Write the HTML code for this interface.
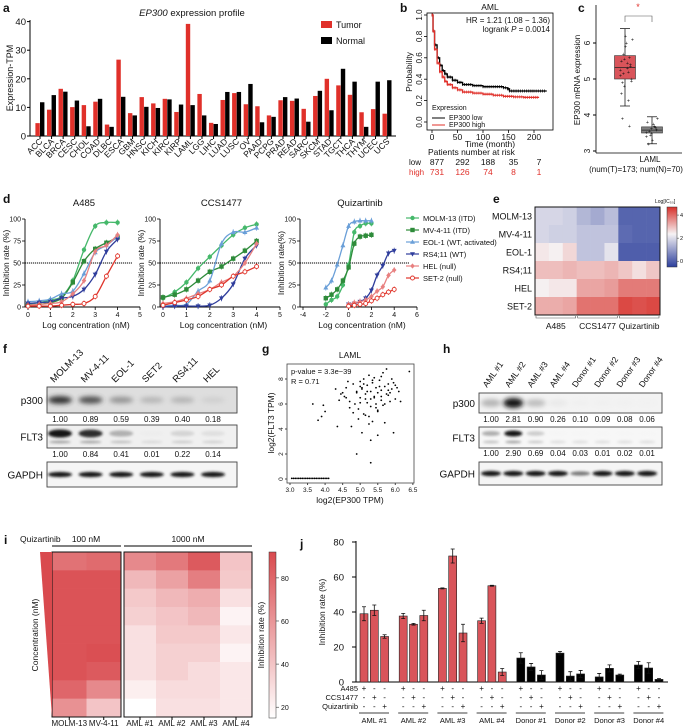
<!DOCTYPE html>
<html><head><meta charset="utf-8">
<style>
html,body{margin:0;padding:0;background:#fff;}
svg{display:block;font-family:"Liberation Sans",Arial,sans-serif;}
text{fill:#111;}
</style></head>
<body>
<svg id="fig" xmlns="http://www.w3.org/2000/svg" width="685" height="726" viewBox="0 0 685 726">
<defs>
<filter id="blur1" x="-30%" y="-100%" width="160%" height="300%"><feGaussianBlur stdDeviation="1.3"/></filter>
<filter id="blur2" x="-30%" y="-100%" width="160%" height="300%"><feGaussianBlur stdDeviation="2.5"/></filter>
<linearGradient id="ecbar" x1="0" y1="0" x2="0" y2="1"><stop offset="0" stop-color="#d7302a"/><stop offset="0.45" stop-color="#f6f3f4"/><stop offset="1" stop-color="#2c3f9c"/></linearGradient>
<linearGradient id="icbar" x1="0" y1="0" x2="0" y2="1"><stop offset="0" stop-color="#d94a4e"/><stop offset="1" stop-color="#ffffff"/></linearGradient>
</defs>
<g font-weight="bold" font-size="12">
<text x="3" y="12">a</text>
<text x="400" y="12">b</text>
<text x="578" y="12">c</text>
<text x="3" y="203">d</text>
<text x="493" y="203">e</text>
<text x="3" y="353">f</text>
<text x="262" y="353">g</text>
<text x="443" y="353">h</text>
<text x="4" y="544">i</text>
<text x="300" y="548">j</text>
</g>

<text x="192" y="16" font-size="9.5" text-anchor="middle"><tspan font-style="italic">EP300</tspan> expression profile</text>
<text transform="translate(13,78) rotate(-90)" font-size="9" text-anchor="middle">Expression-TPM</text>
<rect x="321" y="21" width="11" height="7" fill="#e0302a"/>
<text x="336" y="28" font-size="9">Tumor</text>
<rect x="321" y="37" width="11" height="7" fill="#000"/>
<text x="336" y="44" font-size="9">Normal</text>
<g id="pa"></g>

<text x="490" y="10" font-size="8.5" text-anchor="middle">AML</text>
<rect x="427" y="13" width="126" height="117" fill="none" stroke="#000" stroke-width="0.8"/>
<text x="550" y="23" font-size="8" text-anchor="end">HR = 1.21 (1.08 − 1.36)</text>
<text x="550" y="32" font-size="8" text-anchor="end">logrank <tspan font-style="italic">P</tspan> = 0.0014</text>
<text x="432" y="110" font-size="7">Expression</text>
<line x1="432" y1="118" x2="445" y2="118" stroke="#000" stroke-width="1"/>
<text x="449" y="120" font-size="7">EP300 low</text>
<line x1="432" y1="125" x2="445" y2="125" stroke="#e0302a" stroke-width="1"/>
<text x="449" y="127" font-size="7">EP300 high</text>
<text transform="translate(412,72) rotate(-90)" font-size="8.5" text-anchor="middle">Probability</text>
<text x="490" y="147" font-size="8.5" text-anchor="middle">Time (month)</text>
<text x="428" y="155" font-size="8.5">Patients number at risk</text>
<text x="409" y="165" font-size="8">low</text>
<text x="409" y="175" font-size="8" style="fill:#e0302a">high</text>
<g id="pb"></g>

<g id="pc"></g>
<text transform="translate(580,80) rotate(-90)" font-size="8" text-anchor="middle">EP300 mRNA expression</text>
<text x="650" y="162" font-size="8" text-anchor="middle">LAML</text>
<text x="636" y="172" font-size="8" text-anchor="middle">(num(T)=173; num(N)=70)</text>

<g id="pd"></g>
<g id="pdleg"></g>

<g id="pe"></g>
<text x="655" y="203" font-size="5">Log[IC₅₀]</text>
<rect x="667" y="207" width="10" height="60" fill="url(#ecbar)" stroke="#333" stroke-width="0.5"/>

<g id="pf"></g>
<g id="pg"></g>
<g id="ph"></g>
<g id="pi"></g>
<g id="pj"></g>
</svg>

<script>
const aCategories = ["ACC","BLCA","BRCA","CESC","CHOL","COAD","DLBC","ESCA","GBM","HNSC","KICH","KIRC","KIRP","LAML","LGG","LIHC","LUAD","LUSC","OV","PAAD","PCPG","PRAD","READ","SARC","SKCM","STAD","TGCT","THCA","THYM","UCEC","UCS"];
const aTumor = [4.5,9.2,16.5,10.1,10.8,12,4,26.7,8,13.6,11.4,13,8.4,39.2,14.7,4.6,12.6,15,11.1,10.4,7.2,12.5,12.3,9.5,14,20,17.7,14.4,8.3,9.4,7.8];
const aNormal = [11.8,14.3,15.5,12.4,3.4,13,3.2,13.7,7.2,10.2,9.8,12.8,11,10.8,7.2,4.2,15.4,15.4,18.2,4.8,6.7,13.6,13.1,5,15.8,9,23.5,19,3.2,19,19.5];
const aTicks = [0,10,20,30,40];
const bTimeLow = [0,2,5,10,15,20,25,30,40,50,60,80,100,120,140,148,152,170,200,225];
const bSurvLow = [1,0.85,0.72,0.6,0.53,0.48,0.45,0.42,0.39,0.37,0.35,0.34,0.33,0.33,0.32,0.31,0.29,0.29,0.29,0.29];
const bTimeHigh = [0,2,5,10,15,20,25,30,40,50,60,80,100,120,140,160,180,210];
const bSurvHigh = [1,0.85,0.68,0.55,0.47,0.42,0.38,0.35,0.32,0.3,0.28,0.27,0.26,0.25,0.24,0.235,0.23,0.23];
const bXTicks = [0,50,100,150,200];
const bYTicks = [0,0.2,0.4,0.6,0.8,1.0];
const bRiskLow = ["877","292","188","35","7"];
const bRiskHigh = ["731","126","74","8","1"];
const cYTicks = [3,4,5,6];
const cTumorBox = [4.25,5.0,5.32,5.65,6.4];
const cNormalBox = [3.2,3.5,3.58,3.67,3.95];
const cTumorPts = [5.1,5.3,5.5,5.2,4.9,5.6,5.7,5.4,4.8,5.0,5.9,6.1,6.0,5.25,5.45,4.6,4.4,3.9,3.7,5.15,5.35,5.55,4.95,6.2];
const cNormalPts = [3.4,3.5,3.6,3.55,3.7,3.8,3.3,3.9,3.45,3.65,3.2,3.75,3.52,3.62,3.58];
const dSeries = ["MOLM-13 (ITD)","MV-4-11 (ITD)","EOL-1 (WT, activated)","RS4;11 (WT)","HEL (null)","SET-2 (null)"];
const dX12 = [0,0.5,1,1.5,2,2.5,3,3.5,4];
const dA485 = [
 [3,5,8,12,30,65,92,96,96],
 [2,3,5,10,28,52,66,73,79],
 [6,7,9,15,18,38,62,70,80],
 [4,5,6,10,12,20,37,63,77],
 [2,3,4,6,15,30,63,70,82],
 [1,1,1,2,3,4,12,35,58]];
const dCCS = [
 [10,17,28,44,57,70,82,90,94],
 [11,14,20,30,40,46,55,64,75],
 [1,2,3,18,30,72,85,85,90],
 [0,1,1,1,2,10,26,55,70],
 [4,6,10,15,20,28,35,50,72],
 [2,5,8,12,20,25,35,40,46]];
const dXQuizShort = [-2,-1.5,-1,-0.5,0,0.5,1,1.5,2];
const dXQuizLong = [0,0.5,1,1.5,2,2.5,3,3.5,4];
const dQuiz = [
 [3,8,12,25,48,85,92,95,95],
 [10,14,20,30,45,72,80,81,82],
 [22,30,48,70,92,97,98,98,98],
 [3,4,6,10,19,36,47,61,64],
 [3,5,6,8,12,18,23,36,42],
 [1,2,3,4,7,10,14,17,20]];
const eRows = ["MOLM-13","MV-4-11","EOL-1","RS4;11","HEL","SET-2"];
const eGroups = ["A485","CCS1477","Quizartinib"];
const eValues = [
 [1.9,1.9,1.8,1.4,1.2,1.5,0.1,0.1,0.1],
 [1.9,1.8,1.8,1.6,1.6,1.6,0.2,0.1,0.1],
 [2.5,2.4,2.7,1.6,1.6,2.1,0,0,0],
 [3.0,3.0,3.1,3.0,3.0,3.1,2.9,2.6,2.9],
 [2.4,2.5,2.5,3.3,3.3,3.4,3.8,3.8,3.8],
 [3.2,3.2,3.3,3.9,3.9,3.9,4.4,4.3,4.4]];
const eTicks = [0,2,4];
const fLanes = ["MOLM-13","MV-4-11","EOL-1","SET2","RS4;11","HEL"];
const fP300 = [1.00,0.89,0.59,0.39,0.40,0.18];
const fFLT3 = [1.00,0.84,0.41,0.01,0.22,0.14];
const gX = [3.65,3.8,3.9,3.95,4.0,4.35,4.3,4.4,4.6,4.75,4.9,5.05,5.3,5.3,5.5,5.95,6.4,5.7,5.45,
 4.5,4.6,4.7,4.8,4.85,4.9,4.95,5.0,5.0,5.05,5.1,5.1,5.15,5.2,5.2,5.25,5.3,5.3,5.35,5.4,5.4,5.45,5.5,5.5,5.55,5.6,5.6,5.65,5.7,5.7,5.75,5.8,5.8,5.85,5.9,5.9,6.0,6.0,6.1,6.15,4.55,4.65,4.8,4.95,5.05,5.15,5.25,5.35,5.45,5.55,5.65,5.75,5.85,5.95,5.0,5.2,5.4,5.6,4.7,4.9,5.1,5.3,5.5,5.8,6.05,4.45,5.15,5.35,5.6,5.0,5.25];
const gY = [6.0,4.7,5.0,5.9,5.4,4.2,7.2,6.3,6.5,4.2,2.0,3.7,3.1,1.3,3.5,3.7,8.6,4.5,5.7,
 6.9,7.3,6.2,7.6,6.0,7.0,5.6,7.8,6.5,7.2,8.0,5.2,6.8,7.5,6.1,8.3,7.0,5.8,7.7,6.6,8.1,7.3,6.9,5.5,7.9,7.1,6.3,8.5,7.4,6.0,8.8,6.7,7.6,6.9,7.2,8.0,6.4,7.5,7.0,6.2,6.6,7.8,5.3,4.8,7.3,6.4,5.0,7.9,6.0,7.4,5.9,6.8,6.2,7.7,6.1,7.0,6.5,8.2,5.7,6.9,7.6,6.4,5.4,7.1,7.3,6.8,5.1,4.6,6.6,7.4,4.4];
const gZeroX = [3.05,3.1,3.15,3.2,3.25,3.3,3.35,3.4,3.45,3.5,3.55,3.6,3.65,3.7,3.75,3.8,3.85,3.9,3.95,4.0,4.05,4.1];
const gXTicks = ["3.0","3.5","4.0","4.5","5.0","5.5","6.0","6.5"];
const gYTicks = [0,2,4,6,8];
const hLanes = ["AML #1","AML #2","AML #3","AML #4","Donor #1","Donor #2","Donor #3","Donor #4"];
const hP300 = [1.00,2.81,0.90,0.26,0.10,0.09,0.08,0.06];
const hFLT3 = [1.00,2.90,0.69,0.04,0.03,0.01,0.02,0.01];
const iCols = ["MOLM-13","MV-4-11","AML #1","AML #2","AML #3","AML #4"];
const iValues = [
 [75,78,65,72,85,40],
 [88,88,45,55,70,38],
 [88,88,38,45,50,28],
 [88,88,35,40,45,20],
 [88,88,28,38,38,25],
 [88,90,28,35,35,20],
 [88,85,28,35,30,25],
 [80,65,22,30,30,25],
 [62,40,15,28,28,25]];
const iTicks = [20,40,60,80];
const jGroups = ["AML #1","AML #2","AML #3","AML #4","Donor #1","Donor #2","Donor #3","Donor #4"];
const jValues = [[39,41,26],[37.7,33,38],[53.5,72,28],[35,55,5.7],[13.7,8.6,4],[16.5,3.4,4.6],[2.9,7.8,4],[9.7,8,1.5]];
const jErrors = [[4,3,1],[1.5,0.5,3],[0.3,4,5],[1.5,0.3,2],[3,2,2.5],[1,2.5,2],[2,2,0.5],[2,3,0.5]];
const jTicks = [0,20,40,60,80];

const NS="http://www.w3.org/2000/svg";
function mk(parent,tag,attrs,txt){const e=document.createElementNS(NS,tag);for(const k in attrs)e.setAttribute(k,attrs[k]);if(txt!==undefined)e.textContent=txt;parent.appendChild(e);return e;}
function smooth(pts){let d="M"+pts[0][0]+","+pts[0][1];for(let i=0;i<pts.length-1;i++){const p0=pts[Math.max(0,i-1)],p1=pts[i],p2=pts[i+1],p3=pts[Math.min(pts.length-1,i+2)];const c1=[p1[0]+(p2[0]-p0[0])/6,p1[1]+(p2[1]-p0[1])/6],c2=[p2[0]-(p3[0]-p1[0])/6,p2[1]-(p3[1]-p1[1])/6];d+=" C"+c1[0]+","+c1[1]+" "+c2[0]+","+c2[1]+" "+p2[0]+","+p2[1];}return d;}
function lerp(a,b,t){return a+(b-a)*t;}
function mix(c1,c2,t){return "rgb("+[0,1,2].map(i=>Math.round(lerp(c1[i],c2[i],t))).join(",")+")";}
let el;

(function(){
 const g=document.getElementById("pa");
 const y=v=>136-v*2.86, x=i=>40+i*11.57;
 el=mk(g,"line",{x1:30,y1:20,x2:30,y2:136,stroke:"#000","stroke-width":1});
 
 
 el=mk(g,"line",{x1:30,y1:136,x2:396,y2:136,stroke:"#000","stroke-width":1});
 
 
 aTicks.forEach(t=>{
  mk(g,"line",{x1:27,y1:y(t),x2:30,y2:y(t),stroke:"#000"});
  el=mk(g,"text",{x:26,y:y(t)+3.5,"font-size":9.5,"text-anchor":"end"},t);
  
  
 });
 aCategories.forEach((c,i)=>{
  el=mk(g,"rect",{x:x(i)-4.6,y:y(aTumor[i]),width:4.4,height:aTumor[i]*2.86,fill:"#e0302a"});
  
  
  el=mk(g,"rect",{x:x(i),y:y(aNormal[i]),width:4.4,height:aNormal[i]*2.86,fill:"#000"});
  
  
  mk(g,"line",{x1:x(i),y1:136,x2:x(i),y2:139,stroke:"#000"});
  el=mk(g,"text",{transform:"translate("+(x(i)+3)+",142) rotate(-45)","font-size":8.5,"text-anchor":"end"},c);
  
  
 });
})();

(function(){
 const g=document.getElementById("pb");
 const x=t=>432+t*0.51, y=p=>122-p*107;
 bXTicks.forEach((t,i)=>{
  mk(g,"line",{x1:x(t),y1:130,x2:x(t),y2:133,stroke:"#000","stroke-width":0.8});
  el=mk(g,"text",{x:x(t),y:140,"font-size":8.5,"text-anchor":"middle"},t);
  
  
  el=mk(g,"text",{x:x(t)+5,y:165,"font-size":8.5,"text-anchor":"middle"},bRiskLow[i]);
  
  
  el=mk(g,"text",{x:x(t)+5,y:175,"font-size":8.5,"text-anchor":"middle",style:"fill:#e0302a"},bRiskHigh[i]);
  
  
 });
 bYTicks.forEach(p=>{
  mk(g,"line",{x1:424,y1:y(p),x2:427,y2:y(p),stroke:"#000","stroke-width":0.8});
  el=mk(g,"text",{transform:"translate(422,"+y(p)+") rotate(-90)","font-size":8,"text-anchor":"middle"},p.toFixed(1));
  
  
 });
 function km(T,S,col,name){
  let d="M"+x(T[0])+","+y(S[0]);
  for(let i=1;i<T.length;i++){d+=" H"+x(T[i])+" V"+y(S[i]);}
  el=mk(g,"path",{d:d,fill:"none",stroke:col,"stroke-width":1.3});
  
  
  for(let i=1;i<T.length;i++){
   const n=Math.max(2,Math.round((T[i]-T[i-1])/4));
   for(let k=0;k<n;k++){const tt=T[i-1]+(T[i]-T[i-1])*k/n;mk(g,"line",{x1:x(tt),y1:y(S[i-1])-1.5,x2:x(tt),y2:y(S[i-1])+1.5,stroke:col,"stroke-width":0.7});}
  }
 }
 km(bTimeLow,bSurvLow,"#000","km-ep300-low");
 km(bTimeHigh,bSurvHigh,"#e0302a","km-ep300-high");
})();

(function(){
 const g=document.getElementById("pc");
 const y=v=>151-(v-3)*36;
 el=mk(g,"line",{x1:596,y1:5,x2:596,y2:153,stroke:"#000","stroke-width":0.8});
 
 
 el=mk(g,"line",{x1:596,y1:153,x2:682,y2:153,stroke:"#000","stroke-width":0.8});
 
 
 cYTicks.forEach(t=>{
  mk(g,"line",{x1:593,y1:y(t),x2:596,y2:y(t),stroke:"#000"});
  el=mk(g,"text",{transform:"translate(590,"+y(t)+") rotate(-90)","font-size":8,"text-anchor":"middle"},t);
  
  
 });
 function box(b,cx,w,fill,name){
  mk(g,"line",{x1:cx,y1:y(b[0]),x2:cx,y2:y(b[4]),stroke:"#000","stroke-width":0.7});
  mk(g,"line",{x1:cx-5,y1:y(b[0]),x2:cx+5,y2:y(b[0]),stroke:"#000","stroke-width":0.7});
  mk(g,"line",{x1:cx-5,y1:y(b[4]),x2:cx+5,y2:y(b[4]),stroke:"#000","stroke-width":0.7});
  el=mk(g,"rect",{x:cx-w/2,y:y(b[3]),width:w,height:y(b[1])-y(b[3]),fill:fill,stroke:"#333","stroke-width":0.6});
  
  
  mk(g,"line",{x1:cx-w/2,y1:y(b[2]),x2:cx+w/2,y2:y(b[2]),stroke:"#222","stroke-width":0.8});
 }
 box(cTumorBox,625,21,"#d9545a","c-box-tumor");
 box(cNormalBox,652,21,"#808080","c-box-normal");
 cTumorPts.forEach((v,i)=>{mk(g,"text",{x:619+(i*7%13),y:y(v)+2,"font-size":5},"+");});
 cNormalPts.forEach((v,i)=>{mk(g,"text",{x:645+(i*5%12),y:y(v)+2,"font-size":5},"+");});
 mk(g,"path",{d:"M625,22 V16 H652 V22",fill:"none",stroke:"#555","stroke-width":0.6});
 el=mk(g,"text",{x:638,y:10,"font-size":9,"text-anchor":"middle",style:"fill:#e0302a"},"*");
 
 
})();

const dColors=["#45b86a","#2e8b3a","#6a9fd8","#2f3d9c","#e88080","#e0352b"];
const dMarkers=["circle","square","tri","tridown","diamond","opencircle"];
function marker(g,type,cx,cy,col){
 if(type==="circle")return mk(g,"circle",{cx:cx,cy:cy,r:2.2,fill:col});
 if(type==="opencircle")return mk(g,"circle",{cx:cx,cy:cy,r:2,fill:"#fff",stroke:col,"stroke-width":0.9});
 if(type==="square")return mk(g,"rect",{x:cx-2.2,y:cy-2.2,width:4.4,height:4.4,fill:col});
 if(type==="tri")return mk(g,"path",{d:`M${cx},${cy-2.6}L${cx+2.5},${cy+1.8}L${cx-2.5},${cy+1.8}Z`,fill:col});
 if(type==="tridown")return mk(g,"path",{d:`M${cx},${cy+2.6}L${cx+2.5},${cy-1.8}L${cx-2.5},${cy-1.8}Z`,fill:col});
 return mk(g,"path",{d:`M${cx},${cy-2.6}L${cx+2.3},${cy}L${cx},${cy+2.6}L${cx-2.3},${cy}Z`,fill:col});
}
(function(){
 const g=document.getElementById("pd");
 const y=v=>307-v*0.88;
 const plots=[
  {title:"A485",x0:28,xs:22.4,xmin:0,xmax:5,ticks:[0,1,2,3,4,5],data:dA485,xA:i=>dX12},
  {title:"CCS1477",x0:163,xs:23.4,xmin:0,xmax:5,ticks:[0,1,2,3,4,5],data:dCCS,xA:i=>dX12},
  {title:"Quizartinib",x0:348.6,xs:11.4,xmin:-4,xmax:6,ticks:[-4,-2,0,2,4,6],data:dQuiz,xA:i=>i<3?dXQuizShort:dXQuizLong}];
 plots.forEach((p,pi)=>{
  const x=v=>p.x0+v*p.xs;
  const L=x(p.xmin), R=x(p.xmax);
  el=mk(g,"text",{x:(L+R)/2,y:206,"font-size":9.5,"text-anchor":"middle"},p.title);
  
  
  mk(g,"line",{x1:L-3,y1:219,x2:L-3,y2:307,stroke:"#000","stroke-width":0.9});
  mk(g,"line",{x1:L-3,y1:307,x2:R,y2:307,stroke:"#000","stroke-width":0.9});
  [0,25,50,75,100].forEach(t=>{mk(g,"line",{x1:L-6,y1:y(t),x2:L-3,y2:y(t),stroke:"#000","stroke-width":0.8});
   el=mk(g,"text",{x:L-7,y:y(t)+2.5,"font-size":7,"text-anchor":"end"},t);
   
   });
  p.ticks.forEach(t=>{mk(g,"line",{x1:x(t),y1:307,x2:x(t),y2:310,stroke:"#000","stroke-width":0.8});
   el=mk(g,"text",{x:x(t),y:317,"font-size":7,"text-anchor":"middle"},t);
   
   });
  el=mk(g,"text",{x:(L+R)/2+2,y:328,"font-size":8.5,"text-anchor":"middle"},"Log concentration (nM)");
  
  
  el=mk(g,"text",{transform:`translate(${L-19},263) rotate(-90)`,"font-size":8.5,"text-anchor":"middle"},pi===2?"Inhibition rate(%)":"Inhibition rate (%)");
  
  
  el=mk(g,"line",{x1:L-3,y1:y(50),x2:R-8,y2:y(50),stroke:"#000","stroke-width":1,"stroke-dasharray":"1.2,0.8"});
  
  
  p.data.forEach((s,si)=>{
   const xs=p.xA(si);
   const pts=s.map((v,k)=>[x(xs[k]),y(v)]);
   el=mk(g,"path",{d:smooth(pts),fill:"none",stroke:dColors[si],"stroke-width":1.3});
   
   
   pts.forEach(pt=>{
    mk(g,"line",{x1:pt[0],y1:pt[1]-3,x2:pt[0],y2:pt[1]+3,stroke:dColors[si],"stroke-width":0.7});
    el=marker(g,dMarkers[si],pt[0],pt[1],dColors[si]);
    
    
   });
  });
 });
 const lg=document.getElementById("pdleg");
 dSeries.forEach((s,i)=>{
  const yy=218+i*12;
  mk(lg,"line",{x1:406,y1:yy,x2:419,y2:yy,stroke:dColors[i],"stroke-width":1.2});
  el=marker(lg,dMarkers[i],412.5,yy,dColors[i]);
  
  
  el=mk(lg,"text",{x:423,y:yy+3,"font-size":7.5},s);
  
  
 });
})();

(function(){
 const g=document.getElementById("pe");
 const X0=535,Y0=207,W=125/9,H=108/6;
 const red=[215,48,42],wht=[246,243,244],blu=[44,63,156];
 const col=v=>{const t=(v-(-0.5))/(4.7+0.5);return t>0.55?mix(wht,red,(t-0.55)/0.45):mix(blu,wht,t/0.55);};
 eValues.forEach((row,r)=>{
  row.forEach((v,c)=>{
   el=mk(g,"rect",{x:X0+c*W,y:Y0+r*H,width:W+0.3,height:H+0.3,fill:col(v)});
   
   
  });
  el=mk(g,"text",{x:X0-3,y:Y0+r*H+H/2+3.5,"font-size":9,"text-anchor":"end"},eRows[r]);
  
  
 });
 mk(g,"rect",{x:X0,y:Y0,width:125,height:108,fill:"none",stroke:"#111","stroke-width":1});
 eGroups.forEach((gr,k)=>{
  const a=X0+k*3*W, b=a+3*W;
  mk(g,"path",{d:`M${a+1},316 V318 H${b-1} V316`,fill:"none",stroke:"#555","stroke-width":0.6});
  el=mk(g,"text",{x:(a+b)/2,y:329,"font-size":8.5,"text-anchor":"middle"},gr);
  
  
 });
 eTicks.forEach(t=>{
  const yy=267-(t+0.5)/(4.7+0.5)*60;
  mk(g,"line",{x1:677,y1:yy,x2:679,y2:yy,stroke:"#333","stroke-width":0.5});
  el=mk(g,"text",{x:680,y:yy+2,"font-size":5.5},t);
  
  
 });
})();

function blot(g,x0,x1,y0,y1,label,lanes,ints,opts){
 el=mk(g,"rect",{x:x0,y:y0,width:x1-x0,height:y1-y0,fill:opts.bg||"#ececec",stroke:"#444","stroke-width":0.9});
 
 
 el=mk(g,"text",{x:x0-4,y:(y0+y1)/2+4,"font-size":10,"text-anchor":"end"},label);
 
 
 lanes.forEach((lx,i)=>{
  const v=Math.min(1,ints[i]*opts.gain);
  const c=Math.round(lerp(opts.light,20,v));
  el=mk(g,"ellipse",{cx:lx,cy:(y0+y1)/2+(opts.dy||0),rx:opts.rx,ry:opts.ry*(0.6+0.4*v),fill:`rgb(${c},${c},${c})`,filter:opts.soft?"url(#blur2)":"url(#blur1)",opacity:0.3+0.7*v});
  
  
  if(opts.second){mk(g,"ellipse",{cx:lx,cy:y1-6,rx:opts.rx*0.9,ry:1.3,fill:"#777",opacity:0.2+0.5*v,filter:"url(#blur1)"});}
 });
}
function nums(g,lanes,vals,yy){vals.forEach((v,i)=>{el=mk(g,"text",{x:lanes[i],y:yy,"font-size":8,"text-anchor":"middle"},v.toFixed(2));
 
 });}

(function(){
 const g=document.getElementById("pf");
 const lanes=fLanes.map((_,i)=>60+i*30.6);
 fLanes.forEach((n,i)=>{el=mk(g,"text",{transform:`translate(${lanes[i]-6},383) rotate(-45)`,"font-size":9.5},n);
  
  });
 blot(g,47,237,387,413,"p300",lanes,fP300,{gain:0.9,light:215,rx:12,ry:4,soft:true,bg:"#dedede"});
 nums(g,lanes,fP300,422);
 blot(g,47,237,425,448,"FLT3",lanes,fFLT3,{gain:1.1,light:232,rx:12,ry:4,dy:-3,second:true,bg:"#f0f0f0"});
 nums(g,lanes,fFLT3,457);
 blot(g,47,237,462,487,"GAPDH",lanes,[1,1,1,1,1,1],{gain:1,light:30,rx:12,ry:2.6,bg:"#f5f5f5"});
})();

(function(){
 const g=document.getElementById("pg");
 const x=v=>290+(v-3)*35.1, y=v=>479-v*12.5;
 el=mk(g,"text",{x:350,y:358,"font-size":8.5,"text-anchor":"middle"},"LAML");
 
 
 mk(g,"rect",{x:287,y:364,width:127,height:119,fill:"none",stroke:"#444","stroke-width":0.8});
 gXTicks.forEach(t=>{const xx=x(+t);mk(g,"line",{x1:xx,y1:483,x2:xx,y2:485,stroke:"#444"});
  el=mk(g,"text",{x:xx,y:492,"font-size":6.5,"text-anchor":"middle"},t);
  
  });
 gYTicks.forEach(t=>{mk(g,"line",{x1:285,y1:y(t),x2:287,y2:y(t),stroke:"#444"});
  el=mk(g,"text",{transform:`translate(283,${y(t)}) rotate(-90)`,"font-size":6.5,"text-anchor":"middle"},t);
  
  });
 el=mk(g,"text",{x:350,y:503,"font-size":8.5,"text-anchor":"middle"},"log2(EP300 TPM)");
 
 
 el=mk(g,"text",{transform:"translate(274,423) rotate(-90)","font-size":8.5,"text-anchor":"middle"},"log2(FLT3 TPM)");
 
 
 el=mk(g,"text",{x:291,y:374,"font-size":7.5},"p-value = 3.3e−39");
 
 
 el=mk(g,"text",{x:291,y:384,"font-size":7.5},"R = 0.71");
 
 
 gX.forEach((v,i)=>{el=mk(g,"circle",{cx:x(v),cy:y(gY[i]),r:0.9,fill:"#000"});
  
  });
 gZeroX.forEach(v=>{el=mk(g,"circle",{cx:x(v),cy:y(0.05),r:0.9,fill:"#000"});
  
  });
})();

(function(){
 const g=document.getElementById("ph");
 const lanes=hLanes.map((_,i)=>491+i*22.3);
 hLanes.forEach((n,i)=>{el=mk(g,"text",{transform:`translate(${lanes[i]-4},388) rotate(-55)`,"font-size":8.5},n);
  
  });
 blot(g,479,662,393,413,"p300",lanes,hP300,{gain:0.45,light:242,rx:10,ry:5,soft:true,bg:"#f3f3f3"});
 nums(g,lanes,hP300,422);
 blot(g,479,662,427,448,"FLT3",lanes,hFLT3,{gain:0.5,light:245,rx:9,ry:3,dy:-4,second:true,bg:"#f7f7f7"});
 nums(g,lanes,hFLT3,456);
 blot(g,479,662,462,485,"GAPDH",lanes,[1,1,1,1,0.6,1,1,1],{gain:1,light:150,rx:10,ry:2.6,bg:"#f5f5f5"});
})();

(function(){
 const g=document.getElementById("pi");
 const Y0=552,H=165/9;
 const cx=[52,86.5,124,156,188,220], cw=[34.5,34.5,32,32,32,32];
 const vmin=15,vmax=92;
 const col=v=>mix([255,255,255],[217,74,78],Math.max(0,Math.min(1,(v-vmin)/(vmax-vmin))));
 iValues.forEach((row,r)=>row.forEach((v,c)=>{
  el=mk(g,"rect",{x:cx[c],y:Y0+r*H,width:cw[c]+0.3,height:H+0.3,fill:col(v)});
  
  
 }));
 mk(g,"rect",{x:52,y:552,width:69,height:165,fill:"none",stroke:"#111","stroke-width":1});
 mk(g,"rect",{x:124,y:552,width:128,height:165,fill:"none",stroke:"#111","stroke-width":1});
 el=mk(g,"text",{x:20,y:542,"font-size":8.5},"Quizartinib");
 
 
 el=mk(g,"text",{x:86,y:542,"font-size":8.5,"text-anchor":"middle"},"100 nM");
 
 
 el=mk(g,"text",{x:188,y:542,"font-size":8.5,"text-anchor":"middle"},"1000 nM");
 
 
 mk(g,"line",{x1:52,y1:546,x2:121,y2:546,stroke:"#000","stroke-width":1});
 mk(g,"line",{x1:124,y1:546,x2:252,y2:546,stroke:"#000","stroke-width":1});
 el=mk(g,"path",{d:"M40,552 L52,552 L52,717 Z",fill:"#d94a4e"});
 
 
 el=mk(g,"text",{transform:"translate(38,635) rotate(-90)","font-size":8.5,"text-anchor":"middle"},"Concentration (nM)");
 
 
 iCols.forEach((n,c)=>{const m=cx[c]+cw[c]/2;mk(g,"line",{x1:m,y1:717,x2:m,y2:720,stroke:"#000"});
  el=mk(g,"text",{x:m,y:726,"font-size":8,"text-anchor":"middle"},n);
  
  });
 el=mk(g,"rect",{x:269,y:552,width:7,height:166,fill:"url(#icbar)",stroke:"#333","stroke-width":0.5});
 
 
 iTicks.forEach(t=>{const yy=718-(t-vmin)/(vmax-vmin)*166;mk(g,"line",{x1:276,y1:yy,x2:279,y2:yy,stroke:"#333","stroke-width":0.6});
  el=mk(g,"text",{x:281,y:yy+3,"font-size":7},t);
  
  });
 el=mk(g,"text",{transform:"translate(264,635) rotate(-90)","font-size":8.5,"text-anchor":"middle"},"Inhibition rate (%)");
 
 
})();

(function(){
 const g=document.getElementById("pj");
 const y=v=>682-v*1.75;
 el=mk(g,"line",{x1:356,y1:541,x2:356,y2:682,stroke:"#000","stroke-width":1});
 
 
 el=mk(g,"line",{x1:356,y1:682,x2:668,y2:682,stroke:"#000","stroke-width":1});
 
 
 jTicks.forEach(t=>{mk(g,"line",{x1:352,y1:y(t),x2:356,y2:y(t),stroke:"#000"});
  el=mk(g,"text",{x:344,y:y(t)+3.5,"font-size":9.5,"text-anchor":"end"},t);
  
  });
 el=mk(g,"text",{transform:"translate(325,612) rotate(-90)","font-size":8.5,"text-anchor":"middle"},"Inhibition rate (%)");
 
 
 const tl=["A485","CCS1477","Quizartinib"];
 tl.forEach((t,k)=>{el=mk(g,"text",{x:358,y:691+k*9,"font-size":7.5,"text-anchor":"end"},t);
  
  });
 jGroups.forEach((gr,gi)=>{
  const base=364+gi*39.2;
  const fill=gi<4?"#d9545a":"#000";
  jValues[gi].forEach((v,k)=>{
   const cx=base+k*10.3;
   el=mk(g,"rect",{x:cx-4,y:y(v),width:8,height:v*1.75,fill:fill,stroke:"#222","stroke-width":0.6});
   
   
   const e=jErrors[gi][k];
   mk(g,"path",{d:`M${cx},${y(v+e)} V${y(v-e)} M${cx-2},${y(v+e)} H${cx+2} M${cx-2},${y(v-e)} H${cx+2}`,stroke:"#111","stroke-width":0.8,fill:"none"});
   for(let r=0;r<3;r++){
    el=mk(g,"text",{x:cx,y:691+r*9,"font-size":8,"text-anchor":"middle"},r===k?"+":"-");
    
    
   }
  });
  mk(g,"line",{x1:base-5,y1:713,x2:base+25,y2:713,stroke:"#000","stroke-width":0.8});
  el=mk(g,"text",{x:base+10.3,y:723,"font-size":7.5,"text-anchor":"middle"},gr);
  
  
 });
})();
</script>
</body></html>
